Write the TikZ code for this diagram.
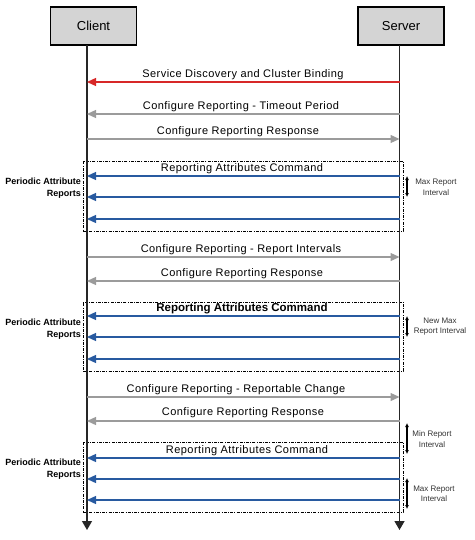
\documentclass[tikz,border=0pt]{standalone}
\usepackage{fontspec}
\setmainfont{Liberation Sans}
\usetikzlibrary{arrows.meta}
\definecolor{msgred}{RGB}{215,40,40}
\definecolor{msggrey}{RGB}{155,155,155}
\definecolor{msgblue}{RGB}{40,90,160}
\definecolor{boxgrey}{RGB}{212,212,212}
\begin{document}
\begin{tikzpicture}[x=1pt,y=-1pt,
  actor/.style={draw=black,line width=1.2pt,fill=boxgrey,minimum width=86pt,minimum height=38pt,inner sep=0pt,font=\fontsize{13}{15}\selectfont},
  life/.style={line width=1.3pt,draw=black!85,-{Triangle[length=9pt,width=10pt]}},
  redmsg/.style={draw=msgred,line width=1.3pt,-{Triangle[length=9pt,width=8pt]}},
  greymsg/.style={draw=msggrey,line width=1.3pt,-{Triangle[length=9pt,width=8pt]}},
  bluemsg/.style={draw=msgblue,line width=1.3pt,-{Triangle[length=9pt,width=8pt]}},
  msglabel/.style={font=\fontsize{11}{12}\selectfont\addfontfeature{LetterSpace=4},inner sep=0pt},
  boldlabel/.style={font=\fontsize{11.5}{13}\selectfont\bfseries,inner sep=0pt},
  periodic/.style={font=\fontsize{9}{12}\selectfont\bfseries,align=right,anchor=east,inner sep=0pt},
  side/.style={font=\fontsize{8}{10.5}\selectfont,align=center,inner sep=0pt,text=black!80},
  group/.style={draw=black,line width=0.9pt,dash pattern=on 3pt off 1.2pt on 1pt off 1.2pt},
  interval/.style={line width=1.1pt,{Latex[length=4pt,width=4pt]}-{Latex[length=4pt,width=4pt]}}
]
\useasboundingbox (0,0) rectangle (474,540);
% actors
\node[actor] (client) at (93.5,26) {Client};
\node[actor] (server) at (401,26) {Server};
% lifelines
\coordinate (cend) at (87,530);
\coordinate (send) at (399.5,530);
\coordinate (ctop) at (87,45);
\coordinate (stop) at (399.5,45);
% group boxes
\node[group,minimum width=320pt,minimum height=70pt,inner sep=0pt] (g1) at (243,196) {};
\node[group,minimum width=320pt,minimum height=69pt,inner sep=0pt] (g2) at (243,336.5) {};
\node[group,minimum width=320pt,minimum height=70pt,inner sep=0pt] (g3) at (243,477) {};
\draw[life] (ctop) -- (cend);
\draw[life] (stop) -- (send);
% message endpoints
\foreach \n/\y in {1/82,2/114,3/139,4/176,5/197,6/219,7/257,8/281,9/316,10/337,11/359,12/397,13/421,14/458,15/479,16/500}{
  \coordinate (c\n) at (87,\y);
  \coordinate (s\n) at (399.5,\y);
}
\draw[redmsg] (s1) -- (c1);
\node[msglabel] (l1) at (243,75) {Service Discovery and Cluster Binding};
\draw[greymsg] (s2) -- (c2);
\node[msglabel] (l2) at (241,107) {Configure Reporting - Timeout Period};
\draw[greymsg] (c3) -- (s3);
\node[msglabel] (l3) at (238,132) {Configure Reporting Response};
% group 1
\draw[bluemsg] (s4) -- (c4);
\draw[bluemsg] (s5) -- (c5);
\draw[bluemsg] (s6) -- (c6);
\node[msglabel] (l4) at (242,168.5) {Reporting Attributes Command};
\node[periodic] (p1) at (81,188) {Periodic Attribute\\Reports};
\coordinate (i1a) at (407,176);
\coordinate (i1b) at (407,197);
\draw[interval] (i1a) -- (i1b);
\node[side] (t1) at (436,187.5) {Max Report\\Interval};
\draw[greymsg] (c7) -- (s7);
\node[msglabel] (l7) at (241,249.5) {Configure Reporting - Report Intervals};
\draw[greymsg] (s8) -- (c8);
\node[msglabel] (l8) at (242,273.5) {Configure Reporting Response};
% group 2
\draw[bluemsg] (s9) -- (c9);
\draw[bluemsg] (s10) -- (c10);
\draw[bluemsg] (s11) -- (c11);
\node[boldlabel] (l9) at (242,309) {Reporting Attributes Command};
\node[periodic] (p2) at (81,329.5) {Periodic Attribute\\Reports};
\coordinate (i2a) at (407,316);
\coordinate (i2b) at (407,337);
\draw[interval] (i2a) -- (i2b);
\node[side] (t2) at (440,326.5) {New Max\\Report Interval};
\draw[greymsg] (c12) -- (s12);
\node[msglabel] (l12) at (236,389.5) {Configure Reporting - Reportable Change};
\draw[greymsg] (s13) -- (c13);
\node[msglabel] (l13) at (243,413) {Configure Reporting Response};
% group 3
\draw[bluemsg] (s14) -- (c14);
\draw[bluemsg] (s15) -- (c15);
\draw[bluemsg] (s16) -- (c16);
\node[msglabel] (l14) at (247,451) {Reporting Attributes Command};
\node[periodic] (p3) at (81,469) {Periodic Attribute\\Reports};
\coordinate (i3a) at (407,423);
\coordinate (i3b) at (407,454);
\draw[interval] (i3a) -- (i3b);
\node[side] (t3) at (432,439) {Min Report\\Interval};
\coordinate (i4a) at (407,478);
\coordinate (i4b) at (407,509);
\draw[interval] (i4a) -- (i4b);
\node[side] (t4) at (434,494) {Max Report\\Interval};
\end{tikzpicture}
\end{document}
